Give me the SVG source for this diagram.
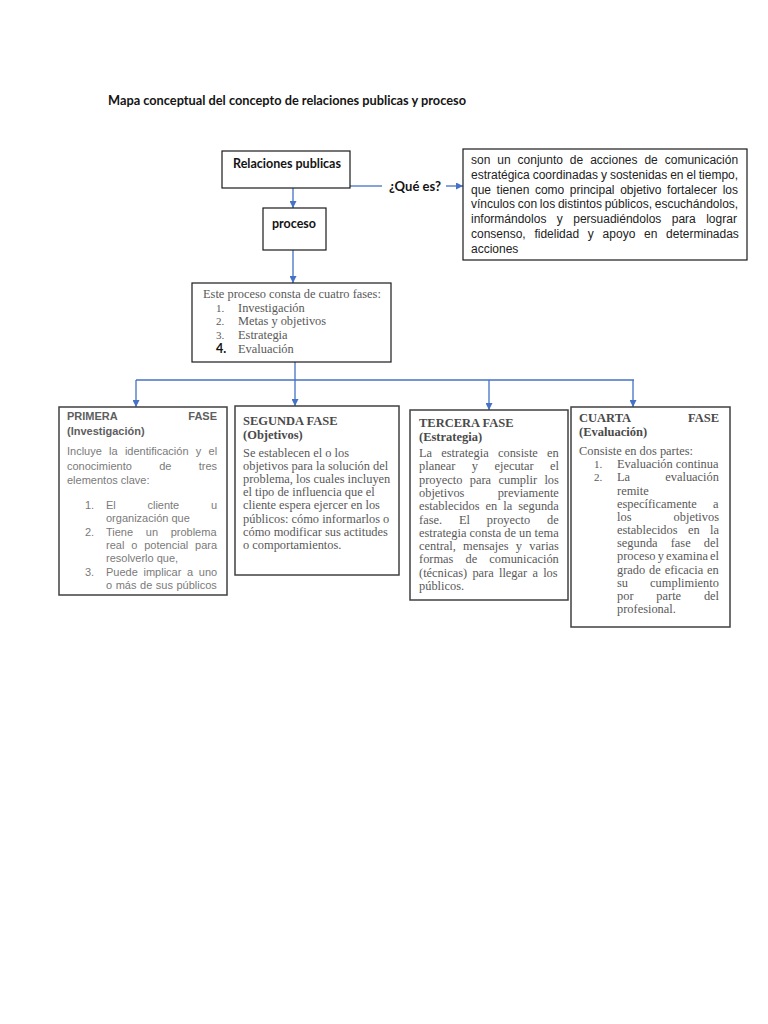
<svg xmlns="http://www.w3.org/2000/svg" width="768" height="1024" viewBox="0 0 768 1024">
<style>
.bg{fill:#fff}
.box{fill:#fff;stroke:#1a1a1a;stroke-width:1.2}
.pbox{fill:#fff;stroke:#404040;stroke-width:1.5}
.conn{stroke:#4472C4;stroke-width:1.3;fill:none}
.cal{font-family:Lato,"Liberation Sans",sans-serif;font-weight:bold;fill:#141414}
.ar{font-family:"Liberation Sans",Arial,sans-serif;font-size:12px;fill:#222}
.ar2{font-family:"Liberation Sans",Arial,sans-serif;font-size:11px;fill:#7a7a7a}
.ar2h{font-family:"Liberation Sans",Arial,sans-serif;font-size:11px;font-weight:bold;fill:#5e5e5e}
.ser{font-family:"Liberation Serif","Times New Roman",serif;font-size:12.4px;fill:#595959}
.serh{font-family:"Liberation Serif","Times New Roman",serif;font-size:12.5px;font-weight:bold;fill:#4a4a4a}
.num{font-family:"Liberation Serif",serif;font-size:11px;fill:#595959}
</style>
<defs>
<marker id="arr" viewBox="0 0 10 10" refX="10" refY="5" markerWidth="7" markerHeight="7" markerUnits="userSpaceOnUse" orient="auto">
<path d="M0,0 L10,5 L0,10 z" fill="#4472C4"/>
</marker>
</defs>
<rect class="bg" x="0" y="0" width="768" height="1024"/>

<text class="cal" x="108" y="105" font-size="13.5" textLength="358" lengthAdjust="spacingAndGlyphs">Mapa conceptual del concepto de relaciones publicas y proceso</text>

<g id="connectors">
<line class="conn" x1="293" y1="188" x2="293" y2="208" marker-end="url(#arr)"/>
<line class="conn" x1="350" y1="186" x2="382" y2="186"/>
<line class="conn" x1="446" y1="186" x2="463" y2="186" marker-end="url(#arr)"/>
<line class="conn" x1="293" y1="250" x2="293" y2="283" marker-end="url(#arr)"/>
<line class="conn" x1="295" y1="362" x2="295" y2="380"/>
<line class="conn" x1="136" y1="380" x2="634" y2="380"/>
<line class="conn" x1="136" y1="380" x2="136" y2="407" marker-end="url(#arr)"/>
<line class="conn" x1="295" y1="380" x2="295" y2="406" marker-end="url(#arr)"/>
<line class="conn" x1="489" y1="380" x2="489" y2="410" marker-end="url(#arr)"/>
<line class="conn" x1="633" y1="380" x2="633" y2="407" marker-end="url(#arr)"/>
<text class="cal" x="389" y="191" font-size="12.5" textLength="52" lengthAdjust="spacingAndGlyphs">¿Qué es?</text>
</g>

<g id="relaciones">
<rect class="box" x="222" y="151" width="128" height="37"/>
<text class="cal" x="233" y="168" font-size="12.5" textLength="108" lengthAdjust="spacingAndGlyphs">Relaciones publicas</text>
</g>

<g id="proceso">
<rect class="box" x="263" y="208" width="63" height="42"/>
<text class="cal" x="272" y="228" font-size="12.5" textLength="44" lengthAdjust="spacingAndGlyphs">proceso</text>
</g>

<g id="definicion">
<rect class="box" x="463" y="149" width="284" height="111"/>
<text class="ar" x="471" y="164" style="word-spacing:3.6px">son un conjunto de acciones de comunicación</text>
<text class="ar" x="471" y="178.8" style="word-spacing:-0.4px">estratégica coordinadas y sostenidas en el tiempo,</text>
<text class="ar" x="471" y="193.6" style="word-spacing:2.26px">que tienen como principal objetivo fortalecer los</text>
<text class="ar" x="471" y="208.4" style="word-spacing:-0.6px">vínculos con los distintos públicos, escuchándolos,</text>
<text class="ar" x="471" y="223.2" style="word-spacing:7.1px">informándolos y persuadiéndolos para lograr</text>
<text class="ar" x="471" y="238" style="word-spacing:5.4px">consenso, fidelidad y apoyo en determinadas</text>
<text class="ar" x="471" y="252.8">acciones</text>
</g>

<g id="fases">
<rect class="box" x="192" y="283" width="199" height="79"/>
<text class="ser" x="203" y="298">Este proceso consta de cuatro fases:</text>
<text class="num" x="216" y="311.5">1.</text><text class="ser" x="238" y="311.5">Investigación</text>
<text class="num" x="216" y="325">2.</text><text class="ser" x="238" y="325">Metas y objetivos</text>
<text class="num" x="216" y="338.5">3.</text><text class="ser" x="238" y="338.5">Estrategia</text>
<text x="216" y="352.5" font-family="Lato,'Liberation Sans',sans-serif" font-weight="bold" font-size="12.5" fill="#111">4.</text><text class="ser" x="238" y="352.5">Evaluación</text>
</g>

<g id="primera">
<rect class="pbox" x="59" y="407" width="168" height="188"/>
<text class="ar2h" x="67" y="420">PRIMERA</text>
<text class="ar2h" x="217" y="420" text-anchor="end">FASE</text>
<text class="ar2h" x="67" y="434.5">(Investigación)</text>
<text class="ar2" x="67" y="455" style="word-spacing:4.2px">Incluye la identificación y el</text>
<text class="ar2" x="67" y="469.5" style="word-spacing:24.3px">conocimiento de tres</text>
<text class="ar2" x="67" y="483.5">elementos clave:</text>
<text class="ar2" x="85" y="508.5">1.</text>
<text class="ar2" x="106" y="508.5" style="word-spacing:28.6px">El cliente u</text>
<text class="ar2" x="106" y="522">organización que</text>
<text class="ar2" x="85" y="535.5">2.</text>
<text class="ar2" x="106" y="535.5" style="word-spacing:9.6px">Tiene un problema</text>
<text class="ar2" x="106" y="549" style="word-spacing:3.8px">real o potencial para</text>
<text class="ar2" x="106" y="562">resolverlo que,</text>
<text class="ar2" x="85" y="575.5">3.</text>
<text class="ar2" x="106" y="575.5" style="word-spacing:2.6px">Puede implicar a uno</text>
<text class="ar2" x="106" y="589" style="word-spacing:0.5px">o más de sus públicos</text>
</g>

<g id="segunda">
<rect class="pbox" x="235" y="406" width="164" height="169"/>
<text class="serh" x="243" y="425">SEGUNDA FASE</text>
<text class="serh" x="243" y="439">(Objetivos)</text>
<text class="ser" x="243" y="457">Se establecen el o los</text>
<text class="ser" x="243" y="470">objetivos para la solución del</text>
<text class="ser" x="243" y="483">problema, los cuales incluyen</text>
<text class="ser" x="243" y="496">el tipo de influencia que el</text>
<text class="ser" x="243" y="509">cliente espera ejercer en los</text>
<text class="ser" x="243" y="522.5">públicos: cómo informarlos o</text>
<text class="ser" x="243" y="535.5">cómo modificar sus actitudes</text>
<text class="ser" x="243" y="548.5">o comportamientos.</text>
</g>

<g id="tercera">
<rect class="pbox" x="410" y="410" width="158" height="190"/>
<text class="serh" x="419" y="427">TERCERA FASE</text>
<text class="serh" x="419" y="441">(Estrategia)</text>
<text class="ser" x="419" y="457" style="word-spacing:6.1px">La estrategia consiste en</text>
<text class="ser" x="419" y="470.3" style="word-spacing:13.3px">planear y ejecutar el</text>
<text class="ser" x="419" y="483.6" style="word-spacing:4.3px">proyecto para cumplir los</text>
<text class="ser" x="419" y="496.9" style="word-spacing:30.1px">objetivos previamente</text>
<text class="ser" x="419" y="510.2" style="word-spacing:2.9px">establecidos en la segunda</text>
<text class="ser" x="419" y="523.5" style="word-spacing:13.8px">fase. El proyecto de</text>
<text class="ser" x="419" y="536.8">estrategia consta de un tema</text>
<text class="ser" x="419" y="550.1" style="word-spacing:4.2px">central, mensajes y varias</text>
<text class="ser" x="419" y="563.4" style="word-spacing:9px">formas de comunicación</text>
<text class="ser" x="419" y="576.7" style="word-spacing:2.15px">(técnicas) para llegar a los</text>
<text class="ser" x="419" y="590">públicos.</text>
</g>

<g id="cuarta">
<rect class="pbox" x="571" y="407" width="159" height="220"/>
<text class="serh" x="579" y="422">CUARTA</text>
<text class="serh" x="719" y="422" text-anchor="end">FASE</text>
<text class="serh" x="579" y="436">(Evaluación)</text>
<text class="ser" x="579" y="455">Consiste en dos partes:</text>
<text class="num" x="594" y="468.2">1.</text>
<text class="ser" x="617" y="468.2">Evaluación continua</text>
<text class="num" x="594" y="481.3">2.</text>
<text class="ser" x="617" y="481.3" style="word-spacing:32.1px">La evaluación</text>
<text class="ser" x="617" y="494.5">remite</text>
<text class="ser" x="617" y="507.7" style="word-spacing:13.1px">específicamente a</text>
<text class="ser" x="617" y="520.8" style="word-spacing:39px">los objetivos</text>
<text class="ser" x="617" y="534" style="word-spacing:7.3px">establecidos en la</text>
<text class="ser" x="617" y="547.2" style="word-spacing:10px">segunda fase del</text>
<text class="ser" x="617" y="560.3" style="word-spacing:-1px">proceso y examina el</text>
<text class="ser" x="617" y="573.5" style="word-spacing:0.8px">grado de eficacia en</text>
<text class="ser" x="617" y="586.7" style="word-spacing:19px">su cumplimiento</text>
<text class="ser" x="617" y="599.8" style="word-spacing:19.7px">por parte del</text>
<text class="ser" x="617" y="613">profesional.</text>
</g>
</svg>
